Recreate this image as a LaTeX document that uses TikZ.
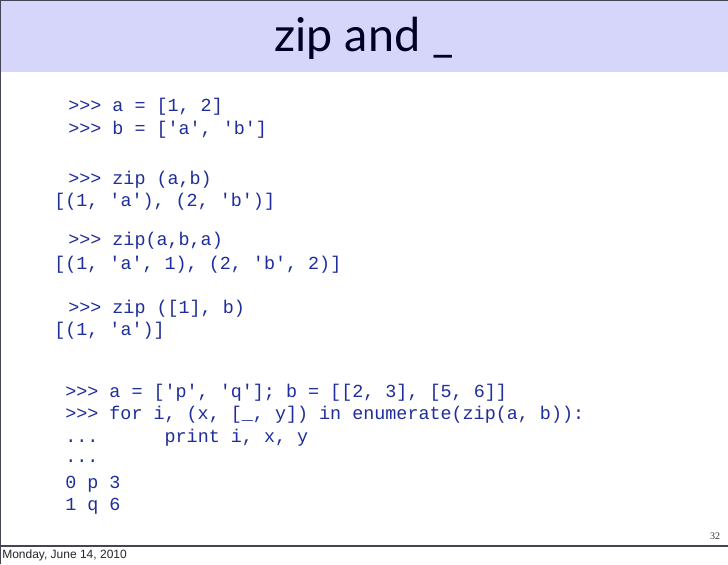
\documentclass[tikz,border=0pt]{standalone}
\usepackage{fontspec}
\setmainfont{Liberation Serif}
\setmonofont{Liberation Mono}
\setsansfont{Liberation Sans}
\newfontfamily\titlefont{Lato}
\definecolor{band}{HTML}{D6D6FA}
\definecolor{codeblue}{HTML}{1F2E9C}
\definecolor{edge}{HTML}{444455}
\tikzset{code/.style={anchor=west,inner sep=0pt,text=codeblue,font=\ttfamily\fontsize{13.8}{15}\selectfont}}
\begin{document}
\begin{tikzpicture}[x=0.75pt,y=-0.75pt]
\useasboundingbox (0,0) rectangle (728,564);
\fill[white] (0,0) rectangle (728,564);
\fill[band] (0,0) rectangle (728,72);
\draw[edge,line width=1.2pt] (0.6,564) -- (0.6,0.6) -- (728,0.6);
\draw[edge,line width=1pt] (0,546) -- (728,546);
\node[inner sep=0pt,text=black!85!blue,font=\titlefont\fontsize{35}{40}\selectfont] (title) at (364,38) {zip and \_};
\node[code] (l1) at (68,107) {>{}>{}> a = [1, 2]};
\node[code] (l2) at (68,130) {>{}>{}> b = ['a', 'b']};
\node[code] (l3) at (68,180) {>{}>{}> zip (a,b)};
\node[code] (l4) at (54,202) {[(1, 'a'), (2, 'b')]};
\node[code] (l5) at (68,241) {>{}>{}> zip(a,b,a)};
\node[code] (l6) at (54,265) {[(1, 'a', 1), (2, 'b', 2)]};
\node[code] (l7) at (68,309) {>{}>{}> zip ([1], b)};
\node[code] (l8) at (54,331) {[(1, 'a')]};
\node[code] (m1) at (65,393) {>{}>{}> a = ['p', 'q']; b = [[2, 3], [5, 6]]};
\node[code] (m2) at (65,415) {>{}>{}> for i, (x, [\_, y]) in enumerate(zip(a, b)):};
\node[code] (m3) at (65,438) {...\ \ \ \ \ \ print i, x, y};
\node[code] (m4) at (65,461) {...};
\node[code] (m5) at (65,484) {0 p 3};
\node[code] (m6) at (65,506) {1 q 6};
\node[inner sep=0pt,font=\fontsize{7.5}{9}\selectfont,text=black!80] (pg) at (715,536) {32};
\node[inner sep=0pt,anchor=west,font=\sffamily\fontsize{9}{10}\selectfont,text=black!85] (date) at (2,555) {Monday, June 14, 2010};
\end{tikzpicture}
\end{document}
